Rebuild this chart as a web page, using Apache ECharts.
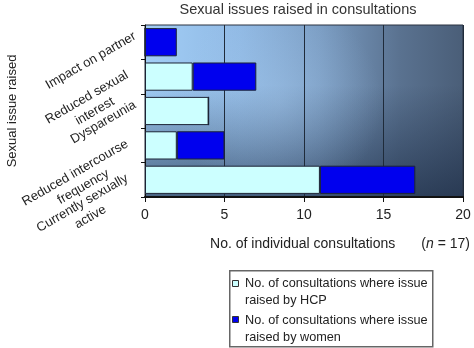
<!DOCTYPE html>
<html>
<head>
<meta charset="utf-8">
<script src="https://cdn.jsdelivr.net/npm/echarts@6/dist/echarts.min.js"></script>
<style>html,body{margin:0;padding:0;background:#fff}#c{width:474px;height:348px}</style>
</head>
<body>
<div id="c"></div>
<script>
const categories = ['Impact on partner', 'Reduced sexual\ninterest', 'Dyspareunia', 'Reduced intercourse\nfrequency', 'Currently sexually\nactive'];
const hcpValues = [0, 3, 4, 2, 11];
const womenValues = [2, 4, 0, 3, 6];
const xTicks = [0, 5, 10, 15, 20];
const seriesNames = ['No. of consultations where issue\nraised by HCP', 'No. of consultations where issue\nraised by women'];

const chart = echarts.init(document.getElementById('c'));
const FONT = 'Liberation Sans, Arial, sans-serif';
const G = { left: 145, top: 25, width: 318, height: 172 };
chart.setOption({
  animation: false,
  title: {
    text: 'Sexual issues raised in consultations',
    left: 293, top: -3, textAlign: 'center',
    textStyle: { fontFamily: FONT, fontSize: 14.5, fontWeight: 'normal', color: '#333' }
  },
  grid: {
    left: G.left, top: G.top, width: G.width, height: G.height,
    outerBoundsMode: 'none', containLabel: false,
    show: true, borderColor: '#2a3340', borderWidth: 1, backgroundColor: 'transparent'
  },
  xAxis: {
    type: 'value', min: xTicks[0], max: xTicks[xTicks.length - 1], interval: 5,
    axisLine: { show: true, lineStyle: { color: '#111', width: 2 } },
    axisTick: { show: true, length: 5, lineStyle: { color: '#111' } },
    splitLine: { show: true, lineStyle: { color: '#1f2b3a', width: 1 } },
    axisLabel: { fontFamily: FONT, fontSize: 14, color: '#222', margin: 11 },
    name: '{a|No. of individual consultations}{b|(}{i|n}{c| = 17)}',
    nameLocation: 'middle', nameGap: 40, nameMoveOverlap: false,
    nameTextStyle: {
      padding: [0, 0, 0, 72],
      rich: {
        a: { fontFamily: FONT, fontSize: 14, color: '#222' },
        b: { fontFamily: FONT, fontSize: 14, color: '#222', padding: [0, 0, 0, 26] },
        i: { fontFamily: FONT, fontSize: 14, color: '#222', fontStyle: 'italic' },
        c: { fontFamily: FONT, fontSize: 14, color: '#222' }
      }
    }
  },
  yAxis: {
    type: 'category', data: categories, inverse: true,
    axisLine: { show: true, lineStyle: { color: '#111', width: 1 } },
    axisTick: { show: true, length: 4, lineStyle: { color: '#111' } },
    axisLabel: {
      interval: 0, hideOverlap: false,
      rotate: 30, margin: 6, align: 'right', verticalAlign: 'middle',
      formatter: function (v) {
        const lines = v.split('\n');
        if (lines.length === 1) return '{a|' + v + '}';
        return lines.map(function (s) { return '{m|' + s + '}'; }).join('\n');
      },
      rich: {
        a: { fontFamily: FONT, fontSize: 13, color: '#222', lineHeight: 15, padding: [0, 0, 16, 0] },
        m: { fontFamily: FONT, fontSize: 13, color: '#222', align: 'center', lineHeight: 16, padding: [0, 9, 0, 0] }
      }
    },
    name: 'Sexual issue raised', nameLocation: 'middle', nameGap: 126, nameMoveOverlap: false,
    nameTextStyle: { fontFamily: FONT, fontSize: 13, color: '#222' }
  },
  series: [
    {
      name: seriesNames[0], type: 'bar', stack: 'total', data: hcpValues, barWidth: '82%',
      itemStyle: { color: '#ccffff', borderColor: '#1c2436', borderWidth: 1 }
    },
    {
      name: seriesNames[1], type: 'bar', stack: 'total', data: womenValues, barWidth: '82%',
      itemStyle: { color: '#0000ee', borderColor: '#1c2436', borderWidth: 1 }
    }
  ],
  graphic: [
    { type: 'rect', z: -10, left: G.left, top: G.top, shape: { width: G.width, height: G.height }, silent: true,
      style: { fill: new echarts.graphic.LinearGradient(0, 0, 1, 0, [
        { offset: 0, color: '#a2cef6' },
        { offset: 0.3, color: '#90b9e4' },
        { offset: 0.55, color: '#7a9cc2' },
        { offset: 0.8, color: '#5a7290' },
        { offset: 1, color: '#4a5e78' }
      ]) } },
    { type: 'rect', z: -9, left: G.left, top: G.top, shape: { width: G.width, height: G.height }, silent: true,
      style: { fill: new echarts.graphic.LinearGradient(0, 0, 0, 1, [
        { offset: 0, color: 'rgba(20,35,60,0)' },
        { offset: 0.35, color: 'rgba(20,35,60,0)' },
        { offset: 1, color: 'rgba(20,35,60,0.62)' }
      ]) } },
    { type: 'rect', z: -8, left: G.left, top: G.top, shape: { width: G.width, height: G.height }, silent: true,
      style: { fill: new echarts.graphic.RadialGradient(0.42, 0.45, 0.6, [
        { offset: 0, color: 'rgba(170,205,240,0.35)' },
        { offset: 1, color: 'rgba(170,205,240,0)' }
      ]) } },
    { type: 'rect', left: 229, top: 270, shape: { width: 203, height: 76 },
      style: { fill: '#fff', stroke: '#666', lineWidth: 1.5 } },
    { type: 'rect', left: 232, top: 280, shape: { width: 6, height: 6 },
      style: { fill: '#ccffff', stroke: '#333', lineWidth: 1 } },
    { type: 'text', left: 245, top: 275,
      style: { text: seriesNames[0], font: '12.7px ' + FONT, fill: '#222', lineHeight: 17 } },
    { type: 'rect', left: 232, top: 316, shape: { width: 6, height: 6 },
      style: { fill: '#0000ee', stroke: '#333', lineWidth: 1 } },
    { type: 'text', left: 245, top: 311.5,
      style: { text: seriesNames[1], font: '12.7px ' + FONT, fill: '#222', lineHeight: 17 } }
  ]
});
</script>
</body>
</html>
